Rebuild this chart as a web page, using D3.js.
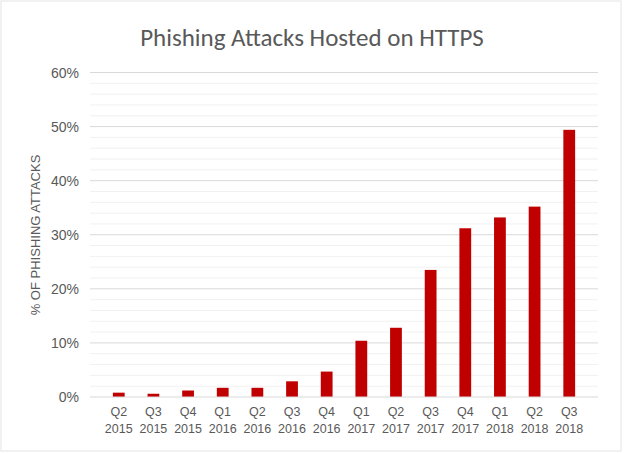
<!DOCTYPE html>
<html><head><meta charset="utf-8">
<script src="https://cdn.jsdelivr.net/npm/d3@7"></script>
<style>body{margin:0;background:#fff;font-family:Calibri,Carlito,"Open Sans",sans-serif;}</style>
</head><body><div id="chart"></div>
<script>
var quarters = ["Q2","Q3","Q4","Q1","Q2","Q3","Q4","Q1","Q2","Q3","Q4","Q1","Q2","Q3"];
var years = ["2015","2015","2015","2016","2016","2016","2016","2017","2017","2017","2017","2018","2018","2018"];
var values = [0.8,0.6,1.2,1.7,1.7,2.9,4.7,10.4,12.8,23.5,31.2,33.2,35.2,49.4];
var majorTicks = [0,10,20,30,40,50,60];
var axisFont = "Arial,'Liberation Sans',sans-serif";

var svg = d3.select("#chart").append("svg").attr("width",624).attr("height",453);
svg.append("rect").attr("x",1).attr("y",1).attr("width",620).attr("height",450)
	.attr("fill","#fff").attr("stroke","#e4e4e4");

var x = d3.scaleBand().domain(d3.range(values.length)).range([90,598]).padding(0.66);
var y = d3.scaleLinear().domain([0,60]).range([397,72.5]);

// minor gridlines every 2%
svg.append("g").selectAll("line").data(d3.range(2,60,2).filter(function(d){return d%10;}))
	.enter().append("line")
	.attr("x1",90).attr("x2",598).attr("y1",function(d){return y(d);}).attr("y2",function(d){return y(d);})
	.attr("stroke","#f1f1f1");
svg.append("g").selectAll("line").data(majorTicks.slice(1)).enter().append("line")
	.attr("x1",90).attr("x2",598).attr("y1",function(d){return y(d);}).attr("y2",function(d){return y(d);})
	.attr("stroke","#d9d9d9");

svg.append("g").selectAll("text").data(majorTicks).enter().append("text")
	.attr("x",79).attr("y",function(d){return y(d)+5;}).attr("text-anchor","end")
	.attr("font-family",axisFont).attr("font-size",14).attr("fill","#595959").text(function(d){return d+"%";});

svg.append("g").selectAll("rect").data(values).enter().append("rect")
	.attr("x",function(d,i){return x(i);}).attr("width",x.bandwidth())
	.attr("y",function(d){return y(d);}).attr("height",function(d){return y(0)-y(d);})
	.attr("fill","#c00000");

svg.append("line").attr("x1",90).attr("x2",598).attr("y1",y(0)).attr("y2",y(0)).attr("stroke","#d9d9d9");

var lab = svg.append("g").selectAll("text").data(quarters).enter().append("text")
	.attr("text-anchor","middle").attr("font-family",axisFont).attr("font-size",12.5).attr("fill","#595959");
lab.append("tspan").attr("x",function(d,i){return x(i)+x.bandwidth()/2;}).attr("y",416).text(function(d){return d;});
lab.append("tspan").attr("x",function(d,i){return x(i)+x.bandwidth()/2;}).attr("y",433).text(function(d,i){return years[i];});

svg.append("text").attr("transform","translate(40,235) rotate(-90)").attr("text-anchor","middle")
	.attr("font-family",axisFont).attr("font-size",13).attr("fill","#595959").text("% OF PHISHING ATTACKS");

svg.append("text").attr("x",312).attr("y",46).attr("text-anchor","middle")
	.attr("font-size",25).attr("fill","#595959").text("Phishing Attacks Hosted on HTTPS");
</script></body></html>
